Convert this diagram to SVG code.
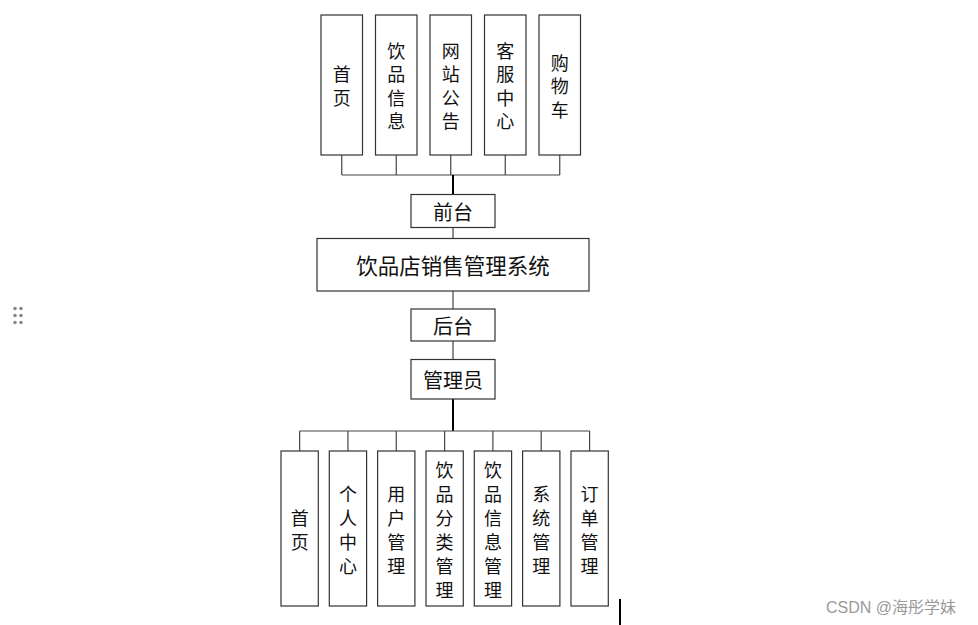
<svg xmlns="http://www.w3.org/2000/svg" width="978" height="625" viewBox="0 0 978 625">
<style>
.box{fill:#fff;stroke:#333;stroke-width:1.2}
.t{font-family:"Noto Sans CJK SC","Noto Sans",sans-serif;fill:#111;text-anchor:middle;dominant-baseline:central}
.v{font-size:18px}
.h{font-size:20px}
.c{fill:none;stroke:#444;stroke-width:1.2}
.k{fill:none;stroke:#000;stroke-width:2}
</style>
<rect width="978" height="625" fill="#fff"/>
<g id="connectors">
<path class="c" d="M341.75 155V175M396.25 155V175M450.75 155V175M505.25 155V175M559.75 155V175M341.75 175H559.75"/>
<path class="k" d="M453 175V194"/>
<path class="c" d="M453 227V238M453 291V309M453 341V359"/>
<path class="k" d="M453 399V431"/>
<path class="c" d="M299.65 431H589.6M299.65 431V451M347.95 431V451M396.25 431V451M444.6 431V451M492.9 431V451M541.2 431V451M589.6 431V451"/>
</g>
<g id="n-shouye"><rect class="box" x="321" y="15" width="41.5" height="140"/><text class="t v" x="341.75"><tspan x="341.75" y="73.25">首</tspan><tspan x="341.75" y="96.75">页</tspan></text></g>
<g id="n-yinpinxinxi"><rect class="box" x="375.5" y="15" width="41.5" height="140"/><text class="t v"><tspan x="396.25" y="49.75">饮</tspan><tspan x="396.25" y="73.25">品</tspan><tspan x="396.25" y="96.75">信</tspan><tspan x="396.25" y="120.25">息</tspan></text></g>
<g id="n-gonggao"><rect class="box" x="430" y="15" width="41.5" height="140"/><text class="t v"><tspan x="450.75" y="49.75">网</tspan><tspan x="450.75" y="73.25">站</tspan><tspan x="450.75" y="96.75">公</tspan><tspan x="450.75" y="120.25">告</tspan></text></g>
<g id="n-kefu"><rect class="box" x="484.5" y="15" width="41.5" height="140"/><text class="t v"><tspan x="505.25" y="49.75">客</tspan><tspan x="505.25" y="73.25">服</tspan><tspan x="505.25" y="96.75">中</tspan><tspan x="505.25" y="120.25">心</tspan></text></g>
<g id="n-gouwuche"><rect class="box" x="539" y="15" width="41.5" height="140"/><text class="t v"><tspan x="559.75" y="61.5">购</tspan><tspan x="559.75" y="85">物</tspan><tspan x="559.75" y="108.5">车</tspan></text></g>
<g id="n-qiantai"><rect class="box" x="411" y="194.5" width="84" height="33"/><text class="t h" x="453" y="211">前台</text></g>
<g id="n-system"><rect class="box" x="317" y="238.5" width="272" height="52.5"/><text class="t" style="font-size:21.5px" x="453" y="264">饮品店销售管理系统</text></g>
<g id="n-houtai"><rect class="box" x="411" y="309" width="84" height="32"/><text class="t h" x="453" y="325.5">后台</text></g>
<g id="n-admin"><rect class="box" x="411" y="359.5" width="84" height="39.5"/><text class="t h" x="453" y="379">管理员</text></g>
<g id="b-shouye"><rect class="box" x="281" y="451" width="37.3" height="155"/><text class="t v"><tspan x="299.65" y="516.5">首</tspan><tspan x="299.65" y="540.5">页</tspan></text></g>
<g id="b-geren"><rect class="box" x="329.3" y="451" width="37.3" height="155"/><text class="t v"><tspan x="347.95" y="492.5">个</tspan><tspan x="347.95" y="516.5">人</tspan><tspan x="347.95" y="540.5">中</tspan><tspan x="347.95" y="564.5">心</tspan></text></g>
<g id="b-yonghu"><rect class="box" x="377.6" y="451" width="37.3" height="155"/><text class="t v"><tspan x="396.25" y="492.5">用</tspan><tspan x="396.25" y="516.5">户</tspan><tspan x="396.25" y="540.5">管</tspan><tspan x="396.25" y="564.5">理</tspan></text></g>
<g id="b-fenlei"><rect class="box" x="426" y="451" width="37.3" height="155"/><text class="t v"><tspan x="444.6" y="468.5">饮</tspan><tspan x="444.6" y="492.5">品</tspan><tspan x="444.6" y="516.5">分</tspan><tspan x="444.6" y="540.5">类</tspan><tspan x="444.6" y="564.5">管</tspan><tspan x="444.6" y="588.5">理</tspan></text></g>
<g id="b-xinxi"><rect class="box" x="474.3" y="451" width="37.3" height="155"/><text class="t v"><tspan x="492.9" y="468.5">饮</tspan><tspan x="492.9" y="492.5">品</tspan><tspan x="492.9" y="516.5">信</tspan><tspan x="492.9" y="540.5">息</tspan><tspan x="492.9" y="564.5">管</tspan><tspan x="492.9" y="588.5">理</tspan></text></g>
<g id="b-xitong"><rect class="box" x="522.6" y="451" width="37.3" height="155"/><text class="t v"><tspan x="541.2" y="492.5">系</tspan><tspan x="541.2" y="516.5">统</tspan><tspan x="541.2" y="540.5">管</tspan><tspan x="541.2" y="564.5">理</tspan></text></g>
<g id="b-dingdan"><rect class="box" x="571" y="451" width="37.3" height="155"/><text class="t v"><tspan x="589.6" y="492.5">订</tspan><tspan x="589.6" y="516.5">单</tspan><tspan x="589.6" y="540.5">管</tspan><tspan x="589.6" y="564.5">理</tspan></text></g>
<line x1="620" y1="599" x2="620" y2="625" stroke="#000" stroke-width="2"/>
<g fill="#888"><circle cx="15" cy="308.5" r="1.8"/><circle cx="21" cy="308.5" r="1.8"/><circle cx="15" cy="315.5" r="1.8"/><circle cx="21" cy="315.5" r="1.8"/><circle cx="15" cy="322.5" r="1.8"/><circle cx="21" cy="322.5" r="1.8"/></g>
<text x="826" y="613" style="font-family:'Liberation Sans','Noto Sans CJK SC',sans-serif;font-size:16px;fill:#999">CSDN @海彤学妹</text>
</svg>
